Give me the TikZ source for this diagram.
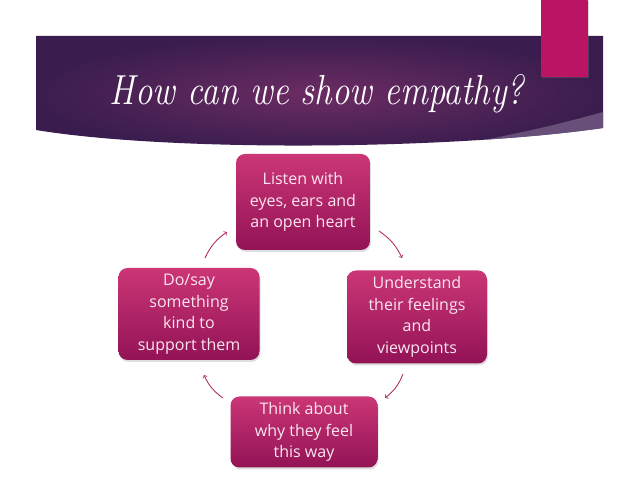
\documentclass[tikz,border=0pt]{standalone}
\usepackage{fontspec}
\newfontfamily\boxfont{Open Sans}
\usetikzlibrary{shadows}
\definecolor{bannerdark}{HTML}{3A1D4E}
\definecolor{bannermid}{HTML}{6C2C63}
\definecolor{stripc}{HTML}{6F5882}
\definecolor{tabc}{HTML}{BC1464}
\definecolor{boxtop}{HTML}{CB3676}
\definecolor{boxbot}{HTML}{921356}
\definecolor{boxtext}{HTML}{FBE6F0}
\definecolor{arrowc}{HTML}{B0306C}
\tikzstyle{stepbox}=[rectangle, rounded corners=9pt, top color=boxtop, bottom color=boxbot, text=boxtext, align=center, inner sep=0pt, font=\boxfont\fontsize{16}{21.5}\selectfont, drop shadow={opacity=0.25, shadow xshift=1pt, shadow yshift=-2pt}]
\tikzstyle{cyc}=[->, draw=arrowc, line width=0.9pt]
\tikzstyle{title}=[text=white, font=\itshape\fontsize{42}{48}\selectfont, xscale=0.83, inner sep=0pt, anchor=base]

\begin{document}
\begin{tikzpicture}[x=1pt, y=-1pt]
				\useasboundingbox (0,0) rectangle (638,478);
				\fill[white] (0,0) rectangle (638,478);
				
				%The banner
				\shade[inner color=bannermid, outer color=bannerdark] (36,36) -- (603,36) -- (603,128) .. controls (450,150) and (170,152) .. (36,130) -- cycle;
				\begin{scope}
					\clip (36,36) -- (603,36) -- (603,128) .. controls (450,150) and (170,152) .. (36,130) -- cycle;
					\fill[stripc, opacity=0.85] (603,112) .. controls (560,124) and (510,136) .. (440,148) -- (440,165) -- (610,165) -- cycle;
				\end{scope}
				\fill[tabc, drop shadow={opacity=0.3, shadow xshift=1pt, shadow yshift=-1pt}] (541,0) rectangle (588,77);
				\draw (317,105) node[title] (head) {How can we show empathy?};
				
				%The cycle
				\draw (303,202) node[stepbox, minimum width=134pt, minimum height=96pt] (listen) {Listen with\\eyes, ears and\\an open heart};
				\draw (417,317) node[stepbox, minimum width=140pt, minimum height=93pt] (understand) {Understand\\their feelings\\and\\viewpoints};
				\draw (304,432) node[stepbox, minimum width=147pt, minimum height=71pt] (think) {Think about\\why they feel\\this way};
				\draw (189,314) node[stepbox, minimum width=141pt, minimum height=92pt] (kind) {Do/say\\something\\kind to\\support them};
				
				\coordinate (a1) at (379,231);
				\coordinate (b1) at (402,258);
				\coordinate (a2) at (403,374);
				\coordinate (b2) at (385,398);
				\coordinate (a3) at (223,398);
				\coordinate (b3) at (204,375);
				\coordinate (a4) at (205,258);
				\coordinate (b4) at (227,232);
				
				\draw[cyc] (a1) to[bend left=15] (b1);
				\draw[cyc] (a2) to[bend left=15] (b2);
				\draw[cyc] (a3) to[bend left=15] (b3);
				\draw[cyc] (a4) to[bend left=15] (b4);
			\end{tikzpicture}
\end{document}
